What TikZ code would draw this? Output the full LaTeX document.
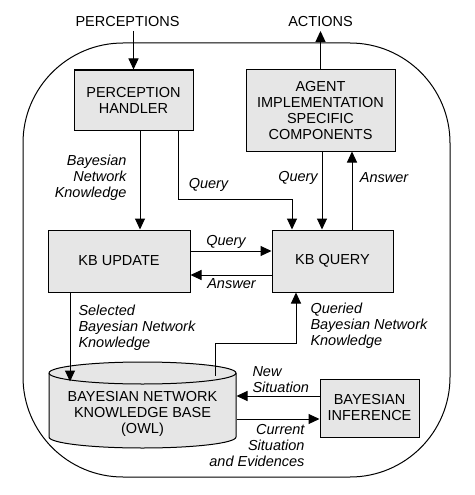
\documentclass[tikz,border=0pt]{standalone}
\usepackage{fontspec}
\setmainfont{Liberation Sans}
\usetikzlibrary{arrows.meta}
\definecolor{boxgray}{RGB}{230,230,230}
\newcommand{\dfont}{\fontsize{14.5}{16}\selectfont}

\begin{document}
\begin{tikzpicture}[x=1pt, y=-1pt, >={Triangle[length=11pt,width=10pt]}, line width=1pt,
  every node/.style={font=\dfont},
  comp/.style={draw, fill=boxgray, align=center, inner sep=2pt},
  lbl/.style={font=\dfont\itshape, inner sep=0pt}]
  \useasboundingbox (0,0) rectangle (474,495);

  % agent frame
  \draw[rounded corners=100pt] (23,43) rectangle (450,477);

  % inputs and outputs
  \node (perc) at (127.5,22) {PERCEPTIONS};
  \node (act) at (320.5,22) {ACTIONS};

  % components
  \node[comp, minimum width=119pt, minimum height=60pt] (handler) at (133.5,100) {PERCEPTION\\HANDLER};
  \node[comp, minimum width=149pt, minimum height=81pt] (agent) at (320.5,110.5) {AGENT\\IMPLEMENTATION\\SPECIFIC\\COMPONENTS};
  \node[comp, minimum width=142pt, minimum height=62pt] (kbu) at (119,261) {KB UPDATE};
  \node[comp, minimum width=121pt, minimum height=62pt] (kbq) at (332.5,261) {KB QUERY};
  \node[comp, minimum width=99pt, minimum height=58pt] (bi) at (369.5,408) {BAYESIAN\\INFERENCE};

  % knowledge base cylinder
  \filldraw[fill=boxgray] (49,373) -- (49,437)
    arc[start angle=180, end angle=0, x radius=93.5, y radius=11] -- (236,373)
    arc[start angle=0, end angle=-180, x radius=93.5, y radius=11] -- cycle;
  \draw (49,373) arc[start angle=180, end angle=0, x radius=93.5, y radius=11];
  \node[align=center, inner sep=0pt, minimum width=187pt, minimum height=64pt] (kbase) at (142.5,414)
    {BAYESIAN NETWORK\\KNOWLEDGE BASE\\(OWL)};

  % connectors
  \draw[->] (handler.north |- perc.south) -- (handler.north);
  \draw[->] (agent.north) -- (act.south);
  \draw[->] ([xshift=6.5pt]handler.south) -- ([xshift=6.5pt]handler.south |- kbu.north);
  \draw[->] ([xshift=44.5pt]handler.south) -- ++(0,69) -| ([xshift=-40.5pt]kbq.north);
  \draw[->] ([xshift=-10.5pt]kbq.north |- agent.south) -- ([xshift=-10.5pt]kbq.north);
  \draw[->] ([xshift=19.5pt]kbq.north) -- ([xshift=19.5pt]kbq.north |- agent.south);
  \draw[->] ([yshift=10pt]kbu.east) -- ([yshift=10pt]kbu.east -| kbq.west);
  \draw[->] ([yshift=-14pt]kbq.west) -- ([yshift=-14pt]kbq.west -| kbu.east);
  \draw[->] ([xshift=-49pt]kbu.south) -- ([xshift=-49pt]kbu.south |- kbase.north);
  \draw[->] ([xshift=72.5pt,yshift=6pt]kbase.north) -- ++(0,-32) -| ([xshift=-36.5pt]kbq.south);
  \draw[->] ([yshift=12pt]bi.west) -- ([yshift=12pt]bi.west -| kbase.east);
  \draw[->] ([yshift=-11pt]bi.west -| kbase.east) -- ([yshift=-11pt]bi.west);

  % connector labels
  \node[lbl, anchor=east, align=right] (lknow) at (127,177.5) {Bayesian\\Network\\Knowledge};
  \node[lbl] (lq1) at (208.5,185) {Query};
  \node[lbl] (lq2) at (298,178) {Query};
  \node[lbl] (la1) at (384,178) {Answer};
  \node[lbl] (lq3) at (226,242) {Query};
  \node[lbl] (la2) at (231.5,284) {Answer};
  \node[lbl, anchor=west, align=left] (lsel) at (78,328) {Selected\\Bayesian Network\\Knowledge};
  \node[lbl, anchor=west, align=left] (lqry) at (310,326) {Queried\\Bayesian Network\\Knowledge};
  \node[lbl, anchor=west, align=left] (lnew) at (252,379.5) {New\\Situation};
  \node[lbl, anchor=east, align=right] (lcur) at (305,445.5) {Current\\Situation\\and Evidences};
\end{tikzpicture}
\end{document}
